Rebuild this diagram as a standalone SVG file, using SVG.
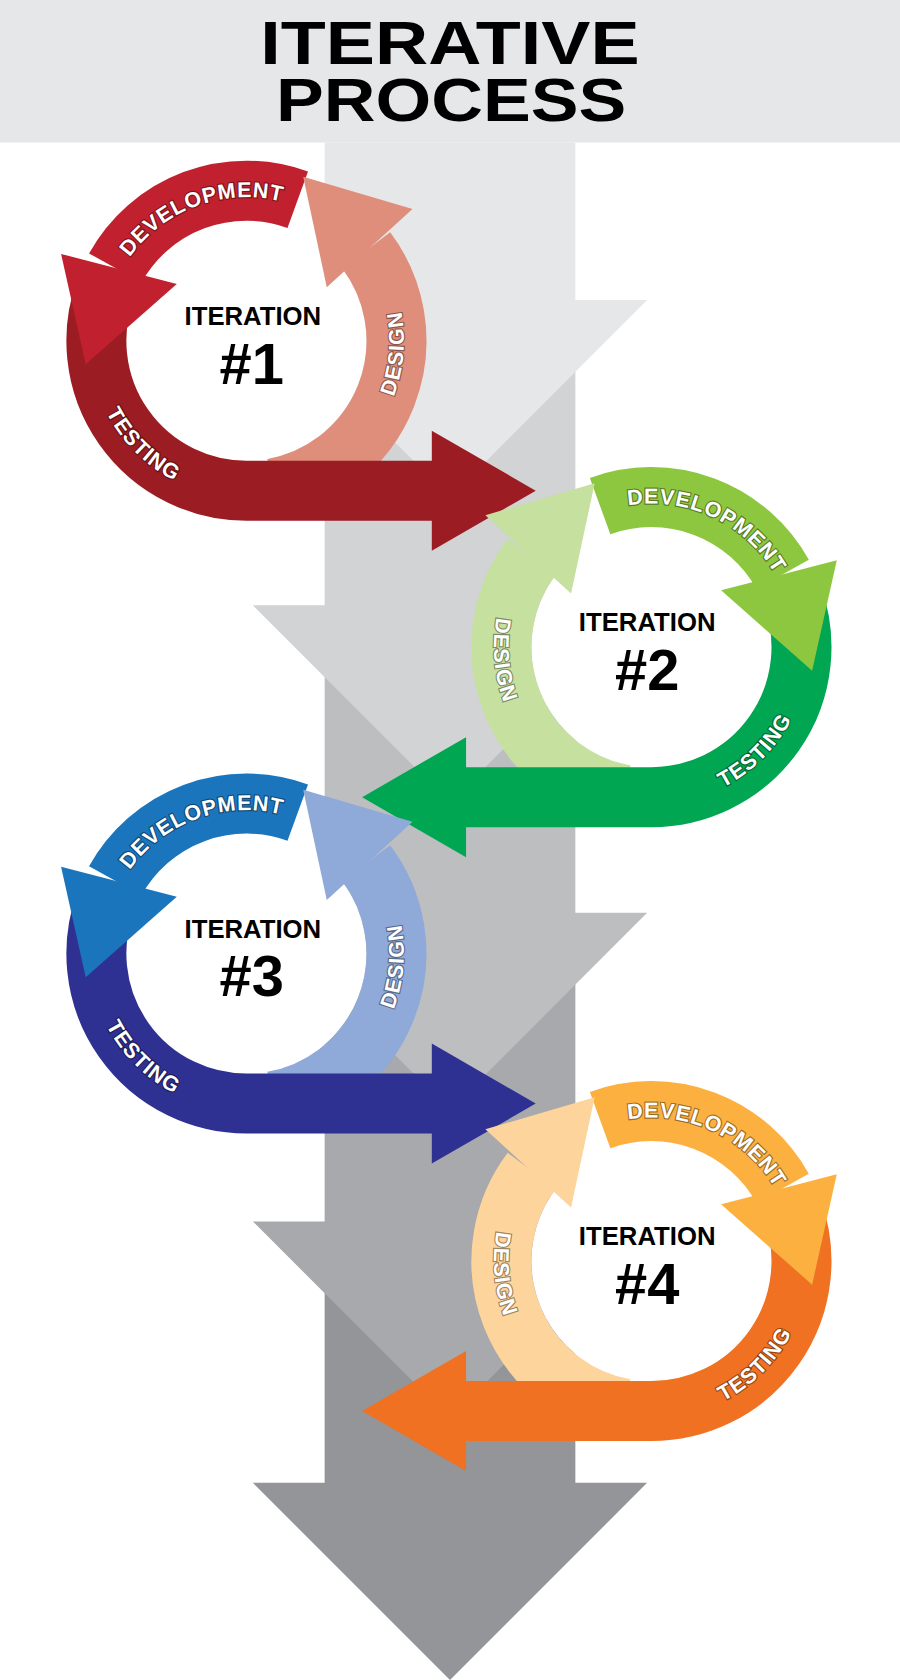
<svg xmlns="http://www.w3.org/2000/svg" width="900" height="1680" viewBox="0 0 900 1680">
<style>
.ring{fill:none;stroke-width:56}
.lbl{fill:#fff;font-family:"Liberation Sans",Arial,sans-serif;font-weight:bold;font-size:20px;letter-spacing:0.8px;stroke:rgba(0,0,0,0.4);stroke-width:2.2;paint-order:stroke}
.it{font-family:"Liberation Sans",Arial,sans-serif;font-weight:bold;fill:#000;text-anchor:middle}
.title{font-family:"Liberation Sans",Arial,sans-serif;font-weight:bold;fill:#000;text-anchor:middle}
</style>
<defs>
<path id="A_dev" d="M -121.4 -56.6 A 134 134 0 0 1 56.6 -121.4"/>
<path id="A_des" d="M 103.9 103.9 A 147 147 0 0 0 120.4 -84.3"/>
<path id="A_test" d="M -146.4 12.8 A 147 147 0 0 0 -12.8 146.4"/>
<path id="B_dev" d="M -45.8 -125.9 A 134 134 0 0 1 125.9 -45.8"/>
<path id="B_des" d="M -127.3 -73.5 A 147 147 0 0 0 -112.6 94.5"/>
<path id="B_test" d="M 25.5 144.8 A 147 147 0 0 0 144.8 25.5"/>
<g id="shapeA">
<path class="ring" stroke="var(--des)" d="M 24.4 137.9 A 140 140 0 0 0 111.8 -84.3"/>
<path class="ring" stroke="var(--test)" d="M -131.6 -47.9 A 140 140 0 0 0 0 140 L 175 140"/>
<polygon fill="var(--test)" points="173,84 270,140 173,196"/>
<path class="ring" stroke="var(--dev)" d="M 47.9 -131.6 A 140 140 0 0 0 -122.4 -67.9"/>
<polygon fill="var(--dev)" points="-173,-81 -65,-53 -150,22"/>
<polygon fill="var(--des)" points="53,-153 155,-123 75,-50"/>
</g>
</defs>
<g transform="scale(1.071429)">
<rect x="0" y="0" width="840" height="1568" fill="#fff"/>
<rect x="0" y="0" width="840" height="133" fill="#e6e7e8"/>
<g id="background-arrows">
<polygon points="303,1200 537,1200 537,1384 604,1384 420,1568 236,1384 303,1384" fill="#939598"/>
<polygon points="303,900 537,900 537,1140 604,1140 420,1324 236,1140 303,1140" fill="#a7a9ac"/>
<polygon points="303,600 537,600 537,852 604,852 420,1036 236,852 303,852" fill="#bcbec0"/>
<polygon points="303,300 537,300 537,565 604,565 420,749 236,565 303,565" fill="#d1d3d4"/>
<polygon points="303,133 537,133 537,280 604,280 420,464 236,280 303,280" fill="#e6e7e8"/>
</g>
<text class="title" x="420" y="60" font-size="57" textLength="354" lengthAdjust="spacingAndGlyphs">ITERATIVE</text>
<text class="title" x="421" y="113" font-size="57" textLength="327" lengthAdjust="spacingAndGlyphs">PROCESS</text>

<g id="iteration1" transform="translate(230,318)" style="--test:#9b1d23;--dev:#c1202f;--des:#df8e7c">
<circle r="112" fill="#fff"/>
<use href="#shapeA"/>
<text class="lbl"><textPath href="#A_dev" startOffset="50%" text-anchor="middle">DEVELOPMENT</textPath></text>
<text class="lbl"><textPath href="#A_des" startOffset="50%" text-anchor="middle">DESIGN</textPath></text>
<text class="lbl"><textPath href="#A_test" startOffset="50%" text-anchor="middle">TESTING</textPath></text>
<text class="it" x="6" y="-15" font-size="24">ITERATION</text>
<text class="it" x="5" y="40" font-size="54">#1</text>
</g>

<g id="iteration2" transform="translate(608,604)" style="--test:#00a651;--dev:#8dc63f;--des:#c6e0a0">
<circle r="112" fill="#fff"/>
<use href="#shapeA" transform="scale(-1,1)"/>
<text class="lbl"><textPath href="#B_dev" startOffset="50%" text-anchor="middle">DEVELOPMENT</textPath></text>
<text class="lbl"><textPath href="#B_des" startOffset="50%" text-anchor="middle">DESIGN</textPath></text>
<text class="lbl"><textPath href="#B_test" startOffset="50%" text-anchor="middle">TESTING</textPath></text>
<text class="it" x="-4" y="-15" font-size="24">ITERATION</text>
<text class="it" x="-4" y="40" font-size="54">#2</text>
</g>

<g id="iteration3" transform="translate(230,890)" style="--test:#2e3192;--dev:#1b75bc;--des:#8fa9d9">
<circle r="112" fill="#fff"/>
<use href="#shapeA"/>
<text class="lbl"><textPath href="#A_dev" startOffset="50%" text-anchor="middle">DEVELOPMENT</textPath></text>
<text class="lbl"><textPath href="#A_des" startOffset="50%" text-anchor="middle">DESIGN</textPath></text>
<text class="lbl"><textPath href="#A_test" startOffset="50%" text-anchor="middle">TESTING</textPath></text>
<text class="it" x="6" y="-15" font-size="24">ITERATION</text>
<text class="it" x="5" y="40" font-size="54">#3</text>
</g>

<g id="iteration4" transform="translate(608,1177)" style="--test:#f07122;--dev:#fbb040;--des:#fdd49b">
<circle r="112" fill="#fff"/>
<use href="#shapeA" transform="scale(-1,1)"/>
<text class="lbl"><textPath href="#B_dev" startOffset="50%" text-anchor="middle">DEVELOPMENT</textPath></text>
<text class="lbl"><textPath href="#B_des" startOffset="50%" text-anchor="middle">DESIGN</textPath></text>
<text class="lbl"><textPath href="#B_test" startOffset="50%" text-anchor="middle">TESTING</textPath></text>
<text class="it" x="-4" y="-15" font-size="24">ITERATION</text>
<text class="it" x="-4" y="40" font-size="54">#4</text>
</g>
</g>
</svg>
